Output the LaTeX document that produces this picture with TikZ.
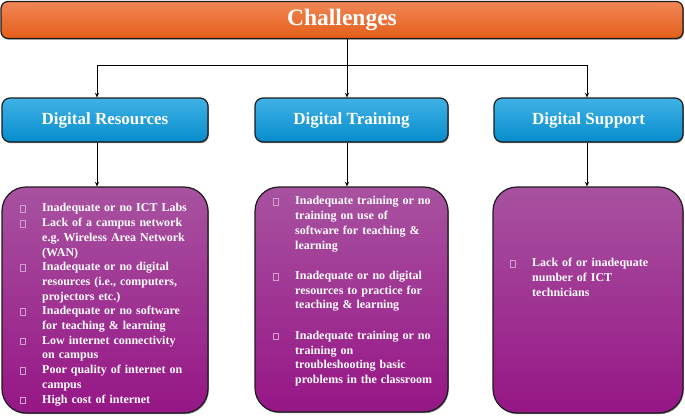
\documentclass[tikz,border=0pt]{standalone}
\usepackage{fontspec}
\setmainfont{Liberation Serif}
\usetikzlibrary{arrows.meta,shadows}
\definecolor{orT}{RGB}{241,134,86}
\definecolor{orB}{RGB}{228,94,24}
\definecolor{blT}{RGB}{64,178,230}
\definecolor{blB}{RGB}{6,140,204}
\definecolor{puT}{RGB}{168,82,160}
\definecolor{puB}{RGB}{150,22,134}
\definecolor{edgec}{RGB}{28,28,28}
\definecolor{bulc}{RGB}{205,160,205}
\frenchspacing
\newcommand\bsq{{\color{bulc}\fboxsep=0pt\fboxrule=0.5pt\fbox{\rule{0pt}{6pt}\hspace{4.5pt}}}}
\newcommand\nl{\hfill\break}
\newcommand\itm[1]{\par\noindent\hangindent=22pt\hangafter=1\makebox[22pt][l]{\bsq}#1\par}
\begin{document}
\begin{tikzpicture}[x=1pt,y=-1pt,
  box/.style={draw=edgec, line width=1.2pt, inner sep=0pt, text=white, font=\bfseries,
    drop shadow={shadow xshift=0.8pt,shadow yshift=-1.2pt,opacity=0.45,fill=black}},
  orbox/.style={box, rounded corners=7pt, top color=orT, bottom color=orB, font=\fontsize{23.5}{26}\selectfont\bfseries},
  blbox/.style={box, rounded corners=8pt, top color=blT, bottom color=blB, minimum height=44pt, font=\fontsize{17}{19}\selectfont\bfseries},
  pubox/.style={box, rounded corners=24pt, top color=puT, bottom color=puB},
  list/.style={anchor=north west, inner sep=0pt, text=white, text width=195pt,
    font=\fontsize{12}{14.7}\selectfont\bfseries},
  ln/.style={draw=black, line width=0.8pt},
  arr/.style={ln, -{Stealth[length=4.5pt,width=4pt]}}]
\useasboundingbox (0,0) rectangle (685,416);

\node[orbox, minimum width=682pt, minimum height=37pt] (ch) at (342,20) {Challenges};

\node[blbox, minimum width=206pt] (dr) at (105,120) {Digital Resources};
\node[blbox, minimum width=193pt] (dt) at (351.5,120) {Digital Training};
\node[blbox, minimum width=189pt] (ds) at (588.5,120) {Digital Support};

\node[pubox, minimum width=206pt, minimum height=226pt] (pr) at (105,300) {};
\node[pubox, minimum width=193pt, minimum height=225pt] (pt) at (351.5,299.5) {};
\node[pubox, minimum width=190pt, minimum height=226pt] (ps) at (588,300) {};

\node[list] (lr) at (20,197) {\raggedright
\itm{Inadequate or no ICT Labs}
\itm{Lack of a campus network\nl e.g. Wireless Area Network\nl (WAN)}
\itm{Inadequate or no digital\nl resources (i.e., computers,\nl projectors etc.)}
\itm{Inadequate or no software\nl for teaching \& learning}
\itm{Low internet connectivity\nl on campus}
\itm{Poor quality of internet on\nl campus}
\itm{High cost of internet}};

\node[list] (lt) at (273,190) {\raggedright
\itm{Inadequate training or no\nl training on use of\nl software for teaching \&\nl learning}
\vspace{15.8pt}
\itm{Inadequate or no digital\nl resources to practice for\nl teaching \& learning}
\vspace{15.8pt}
\itm{Inadequate training or no\nl training on\nl troubleshooting basic\nl problems in the classroom}};

\node[list] (ls) at (510,252) {\raggedright
\itm{Lack of or inadequate\nl number of ICT\nl technicians}};

\coordinate (jL) at (97,65);
\coordinate (jM) at (347,65);
\coordinate (jR) at (587,65);

\draw[arr] (ch.south -| jM) -- (dt.north -| jM);
\draw[ln] (jL) -- (jR);
\draw[arr] (jL) -- (dr.north -| jL);
\draw[arr] (jR) -- (ds.north -| jR);
\draw[arr] (dr.south -| jL) -- (pr.north -| jL);
\draw[arr] (dt.south -| jM) -- (pt.north -| jM);
\draw[arr] (ds.south -| jR) -- (ps.north -| jR);
\end{tikzpicture}
\end{document}
